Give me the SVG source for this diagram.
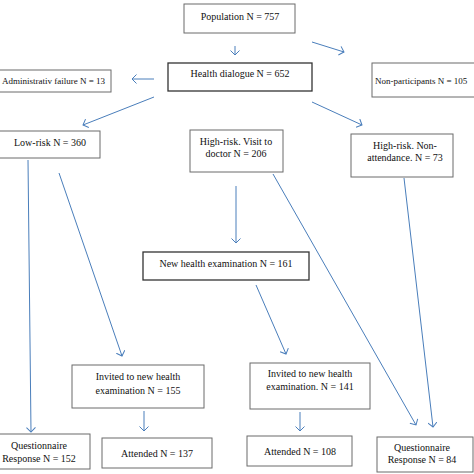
<svg xmlns="http://www.w3.org/2000/svg" width="474" height="474" viewBox="0 0 474 474">
<style>
.box{fill:#fff;stroke:#6b6b6b;stroke-width:1}
.dark{stroke:#333;stroke-width:1.3}
text{font-family:"Liberation Serif","Times New Roman",serif;font-size:10px;fill:#111;text-anchor:middle}
.con line{stroke:#4a7ebb;stroke-width:1;marker-end:url(#ah)}
</style>
<defs>
<marker id="ah" viewBox="-5 -5 6 10" refX="0" refY="0" markerWidth="6" markerHeight="10" orient="auto" markerUnits="userSpaceOnUse">
<path d="M-4.5,-4.5 L0,0 L-4.5,4.5" fill="none" stroke="#4a7ebb" stroke-width="1"/>
</marker>
</defs>
<rect width="474" height="474" fill="#fff"/>
<g class="con">
<line x1="235" y1="46" x2="235" y2="55"/>
<line x1="312" y1="42" x2="344" y2="52"/>
<line x1="154" y1="79" x2="132" y2="79"/>
<line x1="154" y1="97" x2="83" y2="125"/>
<line x1="312" y1="102" x2="362" y2="125"/>
<line x1="28" y1="160" x2="31" y2="432"/>
<line x1="59" y1="173" x2="122" y2="356"/>
<line x1="236" y1="186" x2="236" y2="243"/>
<line x1="273" y1="174" x2="416" y2="425"/>
<line x1="404" y1="178" x2="433" y2="427"/>
<line x1="256" y1="285" x2="286" y2="354"/>
<line x1="144" y1="411" x2="144" y2="431"/>
<line x1="300" y1="412" x2="300" y2="431"/>
</g>
<g id="population"><rect class="box" x="184" y="4" width="111" height="29"/><text x="240" y="20">Population N = 757</text></g>
<g id="health-dialogue"><rect class="box dark" x="168" y="63" width="144" height="28"/><text x="240" y="76.5">Health dialogue N = 652</text></g>
<g id="admin-failure"><rect class="box" x="-5" y="70" width="116" height="22"/><text x="2" y="84" style="text-anchor:start;font-size:9px">Administrativ failure N = 13</text></g>
<g id="non-participants"><rect class="box" x="372" y="63" width="110" height="34"/><text x="375" y="84" style="text-anchor:start;font-size:9px">Non-participants N = 105</text></g>
<g id="low-risk"><rect class="box" x="-5" y="131" width="105" height="27"/><text x="50" y="145.5">Low-risk N = 360</text></g>
<g id="high-risk-visit"><rect class="box" x="190" y="130" width="93" height="42"/><text x="236" y="145">High-risk. Visit to</text><text x="236" y="156.5">doctor N = 206</text></g>
<g id="high-risk-nonattendance"><rect class="box" x="351" y="134" width="102" height="43"/><text x="405" y="148.5">High-risk. Non-</text><text x="405" y="160.5">attendance. N = 73</text></g>
<g id="new-health-exam"><rect class="box dark" x="143" y="252" width="166" height="28"/><text x="226" y="266.5">New health examination N = 161</text></g>
<g id="invited-155"><rect class="box" x="72" y="365" width="132" height="43"/><text x="138" y="379.5">Invited to new health</text><text x="138" y="393.5">examination N = 155</text></g>
<g id="invited-141"><rect class="box" x="250" y="363" width="120" height="46"/><text x="310" y="376.5">Invited to new health</text><text x="310" y="389.5">examination. N = 141</text></g>
<g id="questionnaire-152"><rect class="box" x="-5" y="434" width="95" height="35"/><text x="39" y="448.5">Questionnaire</text><text x="39" y="461.5">Response N = 152</text></g>
<g id="attended-137"><rect class="box" x="102" y="438" width="110" height="30"/><text x="157" y="456.5">Attended N = 137</text></g>
<g id="attended-108"><rect class="box" x="247" y="436" width="105" height="30"/><text x="300" y="454.5">Attended N = 108</text></g>
<g id="questionnaire-84"><rect class="box" x="377" y="437" width="96" height="35"/><text x="422" y="450.5">Questionnaire</text><text x="422" y="462.5">Response N = 84</text></g>
</svg>
